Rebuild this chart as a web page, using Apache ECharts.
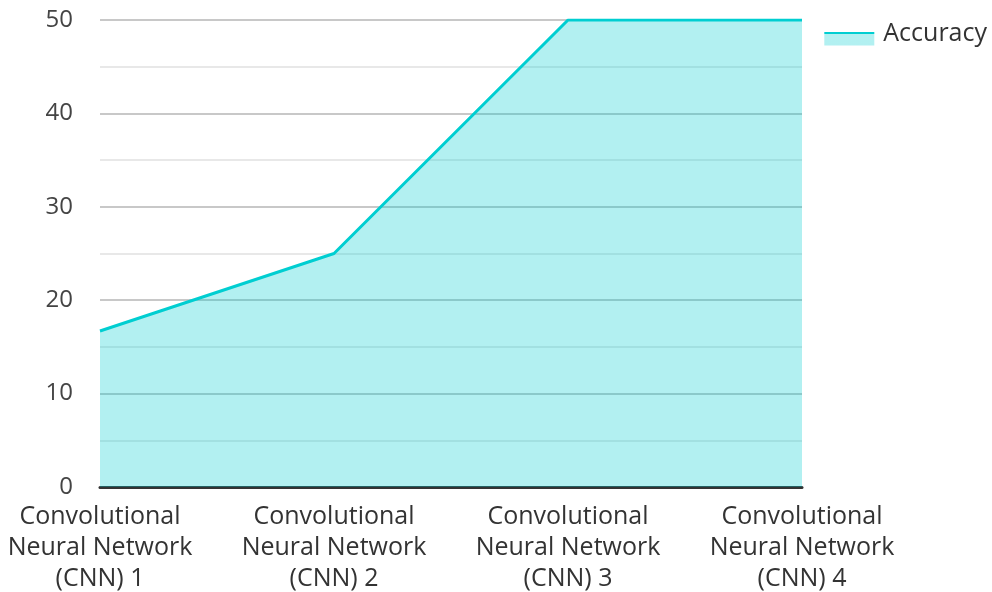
<!DOCTYPE html>
<html>
<head>
<meta charset="utf-8">
<script src="https://cdn.jsdelivr.net/npm/echarts@6/dist/echarts.min.js"></script>
<style>
  html, body { margin: 0; padding: 0; background: #fff; }
  #chart { width: 992px; height: 592px; }
</style>
</head>
<body>
<div id="chart"></div>
<script>
// Model names along the x axis
const categories = [
  'Convolutional\nNeural Network\n(CNN) 1',
  'Convolutional\nNeural Network\n(CNN) 2',
  'Convolutional\nNeural Network\n(CNN) 3',
  'Convolutional\nNeural Network\n(CNN) 4'
];
// Accuracy per model
const accuracy = [16.7, 25, 50, 50];
const seriesName = 'Accuracy';

const teal = '#00ced1';
const tealLight = 'rgba(0,206,209,0.3)';
const font = '"Open Sans", sans-serif';

// Legend swatch: a teal stroke sitting on a pale fill, like the series itself
const legendSwatch = {
  type: 'linear', x: 0, y: 0, x2: 0, y2: 1,
  colorStops: [
    { offset: 0, color: 'rgba(255,255,255,0)' },
    { offset: 0.42, color: 'rgba(255,255,255,0)' },
    { offset: 0.42, color: teal },
    { offset: 0.54, color: teal },
    { offset: 0.54, color: tealLight },
    { offset: 1, color: tealLight }
  ]
};

const chart = echarts.init(document.getElementById('chart'));
chart.setOption({
  animation: false,
  textStyle: { fontFamily: font },
  legend: {
    right: 0,
    top: 16,
    icon: 'rect',
    itemWidth: 50,
    itemHeight: 24,
    itemGap: 10,
    itemStyle: { color: legendSwatch, borderWidth: 0 },
    lineStyle: { width: 0 },
    textStyle: { fontSize: 25, color: '#333', fontFamily: font, padding: [0, 0, 0, 4] },
    data: [seriesName]
  },
  grid: {
    left: 100, right: 190, top: 20, bottom: 105,
    containLabel: false,
    outerBoundsMode: 'none'
  },
  xAxis: {
    type: 'category',
    data: categories,
    boundaryGap: false,
    axisLine: { show: true, lineStyle: { color: '#333', width: 3 } },
    axisTick: { show: false },
    axisLabel: {
      interval: 0,
      fontSize: 25,
      lineHeight: 31,
      color: '#333',
      margin: 14,
      align: 'center'
    },
    splitLine: { show: false }
  },
  yAxis: {
    type: 'value',
    min: 0,
    max: 50,
    interval: 10,
    axisLine: { show: false },
    axisTick: { show: false },
    axisLabel: { fontSize: 24, color: '#444', margin: 27 },
    splitLine: { show: true, lineStyle: { color: '#c8c8c8', width: 2 } },
    minorTick: { show: false, splitNumber: 2 },
    minorSplitLine: { show: true, lineStyle: { color: '#e8e8e8', width: 2 } }
  },
  series: [{
    name: seriesName,
    type: 'line',
    data: accuracy,
    symbol: 'none',
    lineStyle: { color: teal, width: 3 },
    itemStyle: { color: teal },
    areaStyle: { color: teal, opacity: 0.3 }
  }]
});
</script>
</body>
</html>
